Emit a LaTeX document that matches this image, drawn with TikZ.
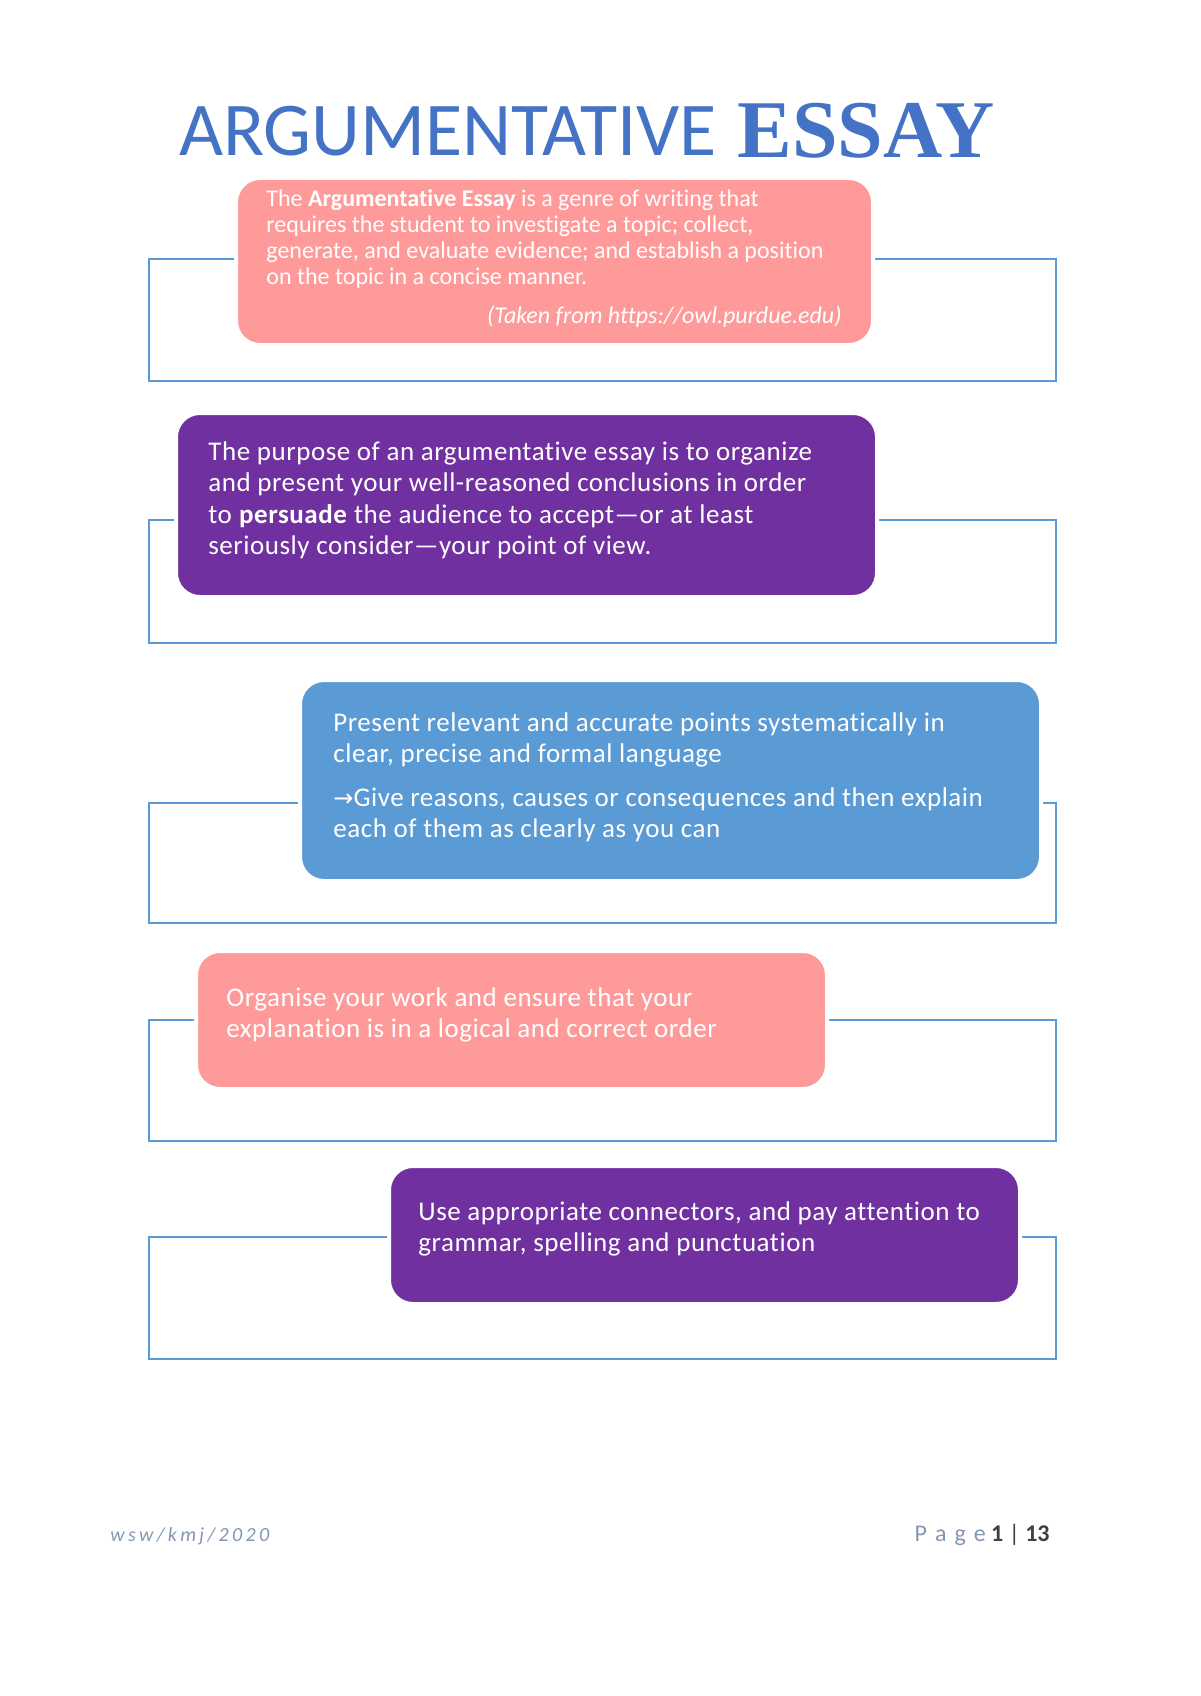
\documentclass[tikz,border=0pt]{standalone}
\usepackage{fontspec}
\setmainfont[Ligatures=NoCommon]{Carlito}
\newfontfamily\djv{DejaVu Sans}
\newfontfamily\serifb{Liberation Serif}
\definecolor{frameblue}{HTML}{5B9BD5}
\definecolor{pinkb}{HTML}{FF9A9A}
\definecolor{purpb}{HTML}{7030A0}
\definecolor{blueb}{HTML}{5B9BD5}
\definecolor{titleblue}{HTML}{4472C4}
\definecolor{foot}{HTML}{8496B0}
\begin{document}
\begin{tikzpicture}[x=0.5pt,y=-0.5pt,
  frame/.style={draw=frameblue,line width=1.2pt},
  box/.style={rounded corners=12pt,draw=white,line width=2pt,inner sep=0pt},
  txt/.style={text=white,anchor=north west,align=left,inner sep=0pt},
  big/.style={font=\fontsize{13.5}{15.8}\selectfont\addfontfeature{LetterSpace=2}}]
\useasboundingbox (0,0) rectangle (1200,1696);
% title
\node[inner sep=0pt] (t1) at (448,131) {\fontsize{38}{40}\selectfont\textcolor{titleblue}{ARGUMENTATIVE}};
\node[inner sep=0pt] (t2) at (866,131) {\fontsize{41}{44}\selectfont\serifb\bfseries\textcolor{titleblue}{ESSAY}};
% frames
\draw[frame] (149,259) rectangle (1056,381);
\draw[frame] (149,520) rectangle (1056,643);
\draw[frame] (149,803) rectangle (1056,923);
\draw[frame] (149,1020) rectangle (1056,1141);
\draw[frame] (149,1237) rectangle (1056,1359);
% box 1
\filldraw[box,fill=pinkb] (236,178) rectangle (873,345);
\node[txt,font=\fontsize{12}{13}\selectfont] (b1) at (266,189) {%
The \textbf{Argumentative Essay} is a genre of writing that\\
requires the student to investigate a topic; collect,\\
generate, and evaluate evidence; and establish a position\\
on the topic in a concise manner.};
\node[text=white,anchor=east,inner sep=0pt,font=\fontsize{12}{13}\selectfont\itshape] (b1s) at (842,317) {(Taken from https://owl.purdue.edu)};
% box 2
\filldraw[box,fill=purpb] (176,413) rectangle (877,597);
\node[txt,big] (b2) at (208,441) {%
The purpose of an argumentative essay is to organize\\
and present your well-reasoned conclusions in order\\
to \textbf{persuade} the audience to accept---or at least\\
seriously consider---your point of view.};
% box 3
\filldraw[box,fill=blueb] (300,680) rectangle (1041,881);
\node[txt,big] (b3) at (333,712) {%
Present relevant and accurate points systematically in\\
clear, precise and formal language\\[6pt]
{\djv\fontsize{12}{15}\selectfont→}Give reasons, causes or consequences and then explain\\
each of them as clearly as you can};
% box 4
\filldraw[box,fill=pinkb] (196,951) rectangle (827,1089);
\node[txt,big] (b4) at (226,987) {%
Organise your work and ensure that your\\
explanation is in a logical and correct order};
% box 5
\filldraw[box,fill=purpb] (389,1166) rectangle (1020,1304);
\node[txt,big] (b5) at (418,1201) {%
Use appropriate connectors, and pay attention to\\
grammar, spelling and punctuation};
% footer
\node[anchor=west,text=foot,inner sep=0pt] (f1) at (110,1536) {\fontsize{10}{12}\selectfont\itshape w\,s\,w\,/\,k\,m\,j\,/\,2\,0\,2\,0};
\node[anchor=east,inner sep=0pt] (f2) at (1050,1535) {\fontsize{12}{13}\selectfont\textcolor{foot}{P\,\,a\,\,g\,\,e} \textcolor{black!75}{\textbf{1} | \textbf{13}}};
\end{tikzpicture}
\end{document}
